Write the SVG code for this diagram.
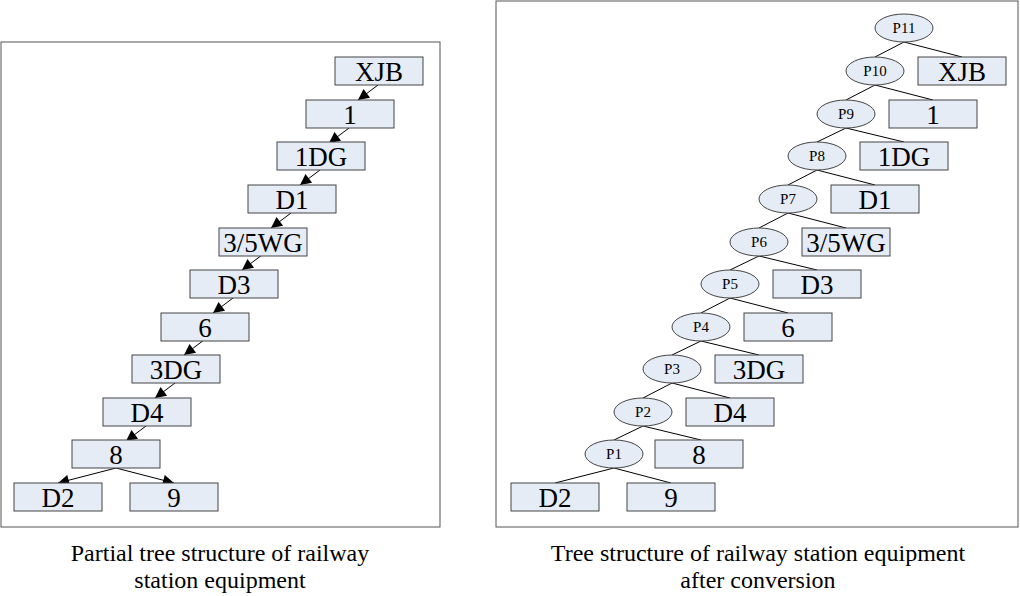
<svg xmlns="http://www.w3.org/2000/svg" width="1020" height="596" viewBox="0 0 1020 596">
<defs>
<style>
.frame{fill:#fff;stroke:#555;stroke-width:1}
.r{fill:#e6ecf6;stroke:#444;stroke-width:1}
.e{fill:#e6ecf6;stroke:#444;stroke-width:1}
.t{font-family:"Liberation Serif",serif;font-size:27px;text-anchor:middle;fill:#000}
.s{font-family:"Liberation Serif",serif;font-size:15px;text-anchor:middle;fill:#000}
.c{font-family:"Liberation Serif",serif;font-size:24px;text-anchor:middle;fill:#000}
.l{stroke:#000;stroke-width:1;fill:none}
</style>
<marker id="a" viewBox="0 0 10 10" refX="10" refY="5" markerWidth="12" markerHeight="11" orient="auto" markerUnits="userSpaceOnUse"><path d="M0,0L10,5L0,10z" fill="#000"/></marker>
</defs>
<rect class="frame" x="1" y="42" width="439" height="485"/>
<rect class="frame" x="496" y="1" width="522" height="526"/>
<g id="connectors">
<line class="l" x1="378" y1="85" x2="358" y2="100" marker-end="url(#a)"/>
<line class="l" x1="349" y1="128" x2="329" y2="143" marker-end="url(#a)"/>
<line class="l" x1="320" y1="170" x2="300" y2="185" marker-end="url(#a)"/>
<line class="l" x1="291" y1="213" x2="271" y2="228" marker-end="url(#a)"/>
<line class="l" x1="262" y1="255" x2="242" y2="270" marker-end="url(#a)"/>
<line class="l" x1="233" y1="298" x2="213" y2="313" marker-end="url(#a)"/>
<line class="l" x1="204" y1="340" x2="184" y2="355" marker-end="url(#a)"/>
<line class="l" x1="175" y1="383" x2="155" y2="398" marker-end="url(#a)"/>
<line class="l" x1="146" y1="426" x2="126" y2="441" marker-end="url(#a)"/>
<line class="l" x1="116" y1="468" x2="58" y2="483" marker-end="url(#a)"/>
<line class="l" x1="116" y1="468" x2="174" y2="483" marker-end="url(#a)"/>
<path class="l" d="M904,42L875,57M904,42L962,57M875,85L846,100M875,85L933,100M846,128L817,142M846,128L904,142M817,170L788,185M817,170L875,185M788,213L759,228M788,213L846,228M759,256L730,270M759,256L817,270M730,298L701,313M730,298L788,313M701,341L672,355M701,341L759,355M672,383L643,398M672,383L730,398M643,426L614,440M643,426L701,440M614,468L555,483M614,468L671,483"/>
</g>
<g id="L-XJB"><rect class="r" x="335" y="57" width="88" height="28"/><text class="t" x="379" y="81">XJB</text></g>
<g id="L-1"><rect class="r" x="306" y="100" width="88" height="28"/><text class="t" x="350" y="124">1</text></g>
<g id="L-1DG"><rect class="r" x="277" y="142" width="88" height="28"/><text class="t" x="321" y="166">1DG</text></g>
<g id="L-D1"><rect class="r" x="248" y="185" width="88" height="28"/><text class="t" x="292" y="209">D1</text></g>
<g id="L-35WG"><rect class="r" x="219" y="228" width="88" height="28"/><text class="t" x="263" y="252">3/5WG</text></g>
<g id="L-D3"><rect class="r" x="190" y="270" width="88" height="28"/><text class="t" x="234" y="294">D3</text></g>
<g id="L-6"><rect class="r" x="161" y="313" width="88" height="28"/><text class="t" x="205" y="337">6</text></g>
<g id="L-3DG"><rect class="r" x="132" y="355" width="88" height="28"/><text class="t" x="176" y="379">3DG</text></g>
<g id="L-D4"><rect class="r" x="103" y="398" width="88" height="28"/><text class="t" x="147" y="422">D4</text></g>
<g id="L-8"><rect class="r" x="72" y="440" width="88" height="28"/><text class="t" x="116" y="464">8</text></g>
<g id="L-D2"><rect class="r" x="14" y="483" width="88" height="28"/><text class="t" x="58" y="507">D2</text></g>
<g id="L-9"><rect class="r" x="130" y="483" width="88" height="28"/><text class="t" x="174" y="507">9</text></g>

<g id="R-XJB"><rect class="r" x="918" y="57" width="88" height="28"/><text class="t" x="962" y="81">XJB</text></g>
<g id="R-1"><rect class="r" x="889" y="100" width="88" height="28"/><text class="t" x="933" y="124">1</text></g>
<g id="R-1DG"><rect class="r" x="860" y="142" width="88" height="28"/><text class="t" x="904" y="166">1DG</text></g>
<g id="R-D1"><rect class="r" x="831" y="185" width="88" height="28"/><text class="t" x="875" y="209">D1</text></g>
<g id="R-35WG"><rect class="r" x="802" y="228" width="88" height="28"/><text class="t" x="846" y="252">3/5WG</text></g>
<g id="R-D3"><rect class="r" x="773" y="270" width="88" height="28"/><text class="t" x="817" y="294">D3</text></g>
<g id="R-6"><rect class="r" x="744" y="313" width="88" height="28"/><text class="t" x="788" y="337">6</text></g>
<g id="R-3DG"><rect class="r" x="715" y="355" width="88" height="28"/><text class="t" x="759" y="379">3DG</text></g>
<g id="R-D4"><rect class="r" x="686" y="398" width="88" height="28"/><text class="t" x="730" y="422">D4</text></g>
<g id="R-8"><rect class="r" x="655" y="440" width="88" height="28"/><text class="t" x="699" y="464">8</text></g>
<g id="R-D2"><rect class="r" x="511" y="483" width="88" height="28"/><text class="t" x="555" y="507">D2</text></g>
<g id="R-9"><rect class="r" x="627" y="483" width="88" height="28"/><text class="t" x="671" y="507">9</text></g>

<g id="P11"><ellipse class="e" cx="904" cy="28" rx="29" ry="14"/><text class="s" x="904" y="33">P11</text></g>
<g id="P10"><ellipse class="e" cx="875" cy="71" rx="29" ry="14"/><text class="s" x="875" y="76">P10</text></g>
<g id="P9"><ellipse class="e" cx="846" cy="114" rx="29" ry="14"/><text class="s" x="846" y="119">P9</text></g>
<g id="P8"><ellipse class="e" cx="817" cy="156" rx="29" ry="14"/><text class="s" x="817" y="161">P8</text></g>
<g id="P7"><ellipse class="e" cx="788" cy="199" rx="29" ry="14"/><text class="s" x="788" y="204">P7</text></g>
<g id="P6"><ellipse class="e" cx="759" cy="242" rx="29" ry="14"/><text class="s" x="759" y="247">P6</text></g>
<g id="P5"><ellipse class="e" cx="730" cy="284" rx="29" ry="14"/><text class="s" x="730" y="289">P5</text></g>
<g id="P4"><ellipse class="e" cx="701" cy="327" rx="29" ry="14"/><text class="s" x="701" y="332">P4</text></g>
<g id="P3"><ellipse class="e" cx="672" cy="369" rx="29" ry="14"/><text class="s" x="672" y="374">P3</text></g>
<g id="P2"><ellipse class="e" cx="643" cy="412" rx="29" ry="14"/><text class="s" x="643" y="417">P2</text></g>
<g id="P1"><ellipse class="e" cx="614" cy="454" rx="29" ry="14"/><text class="s" x="614" y="459">P1</text></g>

<text class="c" x="220" y="561">Partial tree structure of railway</text>
<text class="c" x="220" y="588">station equipment</text>
<text class="c" x="758" y="561">Tree structure of railway station equipment</text>
<text class="c" x="758" y="588">after conversion</text>
</svg>
